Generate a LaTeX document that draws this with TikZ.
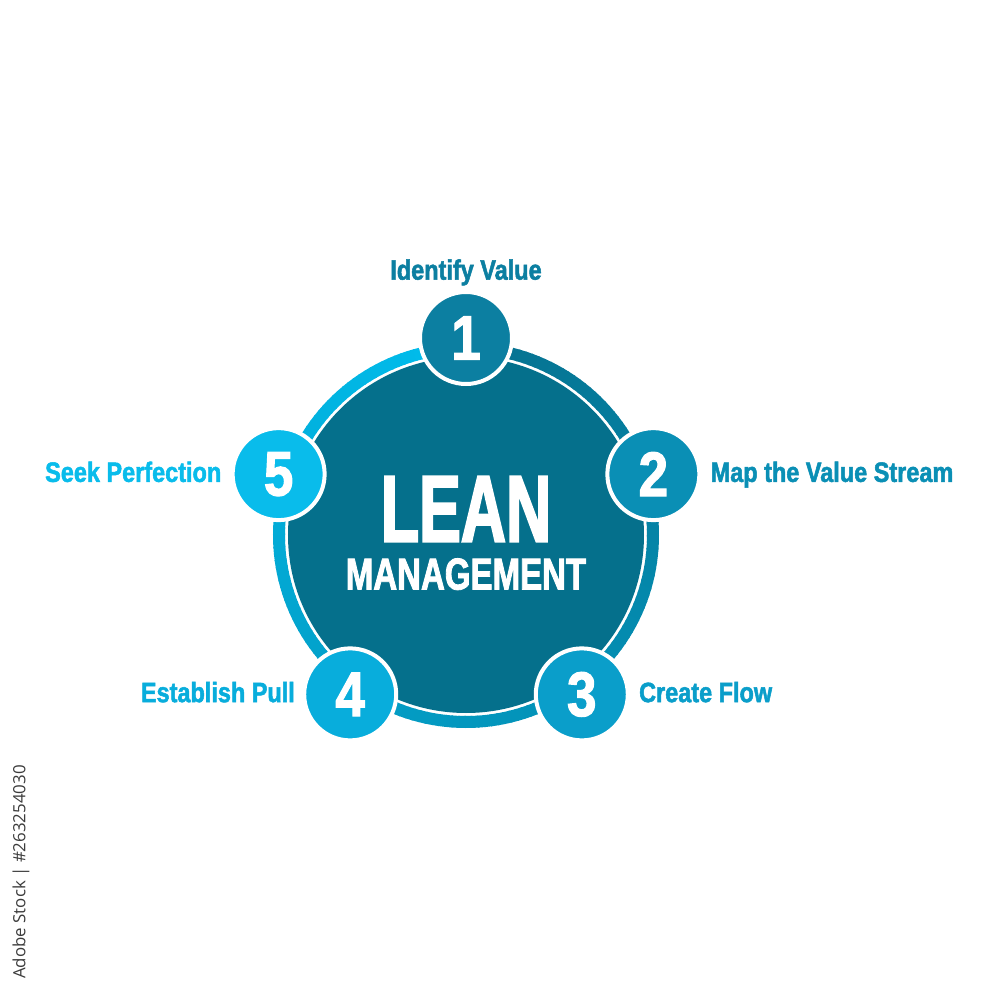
\documentclass[tikz,border=0pt]{standalone}
\usepackage{fontspec}
\usepackage{tikz}
\usetikzlibrary{positioning}
\newfontfamily\labelfont{Liberation Sans}[FakeStretch=0.84,FakeBold=1.8]
\newfontfamily\bigfont{Liberation Sans}[FakeStretch=0.66,FakeBold=2]
\newfontfamily\midfont{Liberation Sans}[FakeStretch=0.74,FakeBold=1.8]
\newfontfamily\stockfont{Open Sans}
\definecolor{centerclr}{HTML}{05708C}
\definecolor{ringdark}{HTML}{06718F}
\definecolor{ringlight}{HTML}{00BEEE}
\definecolor{c1}{HTML}{0C7FA1}
\definecolor{c2}{HTML}{0A8FB5}
\definecolor{c3}{HTML}{0A9ECA}
\definecolor{c4}{HTML}{08ADDC}
\definecolor{c5}{HTML}{09BCEB}
\definecolor{stockgray}{HTML}{3C3C3C}

\begin{document}
\begin{tikzpicture}[
	num/.style={circle, draw=white, line width=0.08cm, minimum size=1.84cm, inner sep=0pt, text=white, font=\labelfont\bfseries\fontsize{35.8}{36}\selectfont},
	lbl/.style={inner sep=0pt, text height=0.42cm, text depth=0.11cm, font=\labelfont\bfseries\fontsize{15.9}{16}\selectfont},
	title/.style={inner sep=0pt, text depth=0pt, text=white}]
	\fill[white] (-9.32,-9.3) rectangle (10.68,10.7);
	\useasboundingbox (-9.32,-9.3) rectangle (10.68,10.7);
	
	%center and ring
	\node (C)[circle, fill=centerclr, minimum size=7.12cm, inner sep=0pt] at (0,0) {};
	\foreach \a in {0,2,...,358}{
		\pgfmathsetmacro\t{\a/3.6}
		\draw[line width=0.24cm, ringlight!\t!ringdark] (90-\a:3.74) arc (90-\a:87.5-\a:3.74);
	}
	
	%nodes
	\node (n1)[num, fill=c1] at (90:3.94)   {1};
	\node (n2)[num, fill=c2] at (18:3.94)   {2};
	\node (n3)[num, fill=c3] at (-54:3.94)  {3};
	\node (n4)[num, fill=c4] at (-126:3.94) {4};
	\node (n5)[num, fill=c5] at (162:3.94)  {5};
	
	%labels
	\node (v1)[lbl, text=c1, above=0.09cm of n1] {Identify Value};
	\node (v2)[lbl, text=c2, right=0.18cm of n2] {Map the Value Stream};
	\node (v3)[lbl, text=c3, right=0.18cm of n3] {Create Flow};
	\node (v4)[lbl, text=c4, left=0.14cm of n4]  {Establish Pull};
	\node (v5)[lbl, text=c5, left=0.18cm of n5]  {Seek Perfection};
	
	\node (lean)[title, font=\bigfont\bfseries\fontsize{54}{54}\selectfont] at (0,0.52) {LEAN};
	\node (mgmt)[title, font=\midfont\bfseries\fontsize{25.4}{26}\selectfont, below=0.32cm of lean] {MANAGEMENT};
	
	\node (stock)[rotate=90, inner sep=0pt, text=stockgray, font=\stockfont\fontsize{9.6}{10}\selectfont] at (-8.9,-6.74) {Adobe Stock | \#263254030};
\end{tikzpicture}
\end{document}
